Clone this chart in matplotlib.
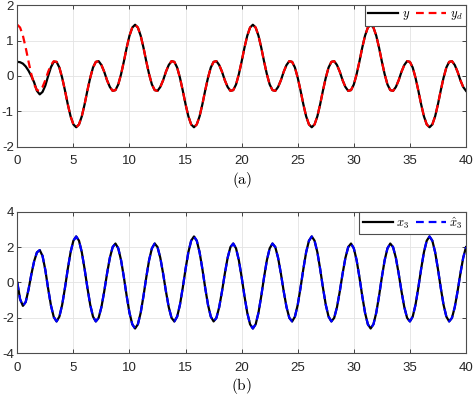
import numpy as np
import matplotlib
matplotlib.use("Agg")
import matplotlib.pyplot as plt

dt = 0.25

y_ref = [
    1.45, 1.37, 1.14, 0.80, 0.41, 0.05, -0.24, -0.40, -0.42, -0.31, -0.12, 0.12, 0.31, 0.42,
    0.40, 0.24, -0.05, -0.41, -0.80, -1.14, -1.37, -1.45, -1.37, -1.14, -0.80, -0.41, -0.05, 0.24,
    0.40, 0.42, 0.31, 0.12, -0.12, -0.31, -0.42, -0.40, -0.24, 0.05, 0.41, 0.80, 1.14, 1.37,
    1.45, 1.37, 1.14, 0.80, 0.41, 0.05, -0.24, -0.40, -0.42, -0.31, -0.12, 0.12, 0.31, 0.42,
    0.40, 0.24, -0.05, -0.41, -0.80, -1.14, -1.37, -1.45, -1.37, -1.14, -0.80, -0.41, -0.05, 0.24,
    0.40, 0.42, 0.31, 0.12, -0.12, -0.31, -0.42, -0.40, -0.24, 0.05, 0.41, 0.80, 1.14, 1.37,
    1.45, 1.37, 1.14, 0.80, 0.41, 0.05, -0.24, -0.40, -0.42, -0.31, -0.12, 0.12, 0.31, 0.42,
    0.40, 0.24, -0.05, -0.41, -0.80, -1.14, -1.37, -1.45, -1.37, -1.14, -0.80, -0.41, -0.05, 0.24,
    0.40, 0.42, 0.31, 0.12, -0.12, -0.31, -0.42, -0.40, -0.24, 0.05, 0.41, 0.80, 1.14, 1.37,
    1.45, 1.37, 1.14, 0.80, 0.41, 0.05, -0.24, -0.40, -0.42, -0.31, -0.12, 0.12, 0.31, 0.42,
    0.40, 0.24, -0.05, -0.41, -0.80, -1.14, -1.37, -1.45, -1.37, -1.14, -0.80, -0.41, -0.05, 0.24,
    0.40, 0.42, 0.31, 0.12, -0.12, -0.31, -0.42,
]

# output y differs from y_d only during the first ~3.5 s
y_start = [0.40, 0.39, 0.35, 0.27, 0.15, 0.00, -0.18, -0.42, -0.52, -0.45, -0.27, 0.00, 0.25, 0.40]

x3_start = [0.00, -0.95, -1.32, -1.10, -0.40, 0.45, 1.20, 1.70, 1.83, 1.50, 0.70, -0.35, -1.30, -1.95]
x3_rest = [
    -2.20, -1.93, -1.26, -0.30, 0.76, 1.71, 2.36, 2.60, 2.36, 1.71, 0.76, -0.30, -1.26, -1.93,
    -2.20, -2.00, -1.39, -0.50, 0.50, 1.39, 2.00, 2.20, 1.93, 1.26, 0.30, -0.76, -1.71, -2.36,
    -2.60, -2.36, -1.71, -0.76, 0.30, 1.26, 1.93, 2.20, 2.00, 1.39, 0.50, -0.50, -1.39, -2.00,
    -2.20, -1.93, -1.26, -0.30, 0.76, 1.71, 2.36, 2.60, 2.36, 1.71, 0.76, -0.30, -1.26, -1.93,
    -2.20, -2.00, -1.39, -0.50, 0.50, 1.39, 2.00, 2.20, 1.93, 1.26, 0.30, -0.76, -1.71, -2.36,
    -2.60, -2.36, -1.71, -0.76, 0.30, 1.26, 1.93, 2.20, 2.00, 1.39, 0.50, -0.50, -1.39, -2.00,
    -2.20, -1.93, -1.26, -0.30, 0.76, 1.71, 2.36, 2.60, 2.36, 1.71, 0.76, -0.30, -1.26, -1.93,
    -2.20, -2.00, -1.39, -0.50, 0.50, 1.39, 2.00, 2.20, 1.93, 1.26, 0.30, -0.76, -1.71, -2.36,
    -2.60, -2.36, -1.71, -0.76, 0.30, 1.26, 1.93, 2.20, 2.00, 1.39, 0.50, -0.50, -1.39, -2.00,
    -2.20, -1.93, -1.26, -0.30, 0.76, 1.71, 2.36, 2.60, 2.36, 1.71, 0.76, -0.30, -1.26, -1.93,
    -2.20, -2.00, -1.39, -0.50, 0.50, 1.39, 2.00,
]

xticks = [0, 5, 10, 15, 20, 25, 30, 35, 40]
yticks_a = [-2, -1, 0, 1, 2]
yticks_b = [-4, -2, 0, 2, 4]

y_out = y_start + y_ref[len(y_start):]
x3 = x3_start + x3_rest
x3_hat = list(x3)

t_a = np.arange(len(y_ref)) * dt
t_b = np.arange(len(x3)) * dt

plt.rcParams['font.family'] = ['Liberation Sans', 'DejaVu Sans']
plt.rcParams['mathtext.fontset'] = 'cm'
plt.rcParams['axes.unicode_minus'] = False
plt.rcParams['font.size'] = 9.5

fig = plt.figure(figsize=(4.74, 3.95), dpi=100)
ax1 = fig.add_axes([0.0365, 0.6286, 0.9466, 0.358])
ax2 = fig.add_axes([0.0365, 0.1056, 0.9466, 0.3585])

dash = (0, (3.5, 2.2))
ax1.plot(t_a, y_out, color='black', lw=1.6, label='$y$')
ax1.plot(t_a, y_ref, color='red', lw=1.6, linestyle=dash, label='$y_d$')
ax2.plot(t_b, x3, color='black', lw=1.6, label='$x_3$')
ax2.plot(t_b, x3_hat, color='blue', lw=1.6, linestyle=dash, label=r'$\hat{x}_3$')

for ax, yt, lim, tag in [(ax1, yticks_a, (-2, 2), '(a)'), (ax2, yticks_b, (-4, 4), '(b)')]:
    ax.set_xlim(0, 40)
    ax.set_ylim(*lim)
    ax.set_xticks(xticks)
    ax.set_yticks(yt)
    ax.grid(True, color='#e3e3e3', lw=0.6)
    ax.set_axisbelow(True)
    for s in ax.spines.values():
        s.set_color('#4d4d4d')
        s.set_linewidth(0.8)
    ax.tick_params(direction='in', top=True, right=True, length=3, width=0.6,
                   colors='#262626', labelsize=9.5)
    ax.tick_params(axis='x', pad=6)
    ax.tick_params(axis='y', pad=2.5)
    ax.set_xlabel(r'$\mathrm{' + tag + '}$', fontsize=11, labelpad=2)
    leg = ax.legend(loc='upper right', ncol=2, borderaxespad=0, fancybox=False,
                    edgecolor='#4d4d4d', framealpha=1, handlelength=2.4,
                    handletextpad=0.3, columnspacing=0.5, borderpad=0.25, fontsize=9)
    leg.get_frame().set_linewidth(0.8)

fig.savefig('out.png', dpi=100)
